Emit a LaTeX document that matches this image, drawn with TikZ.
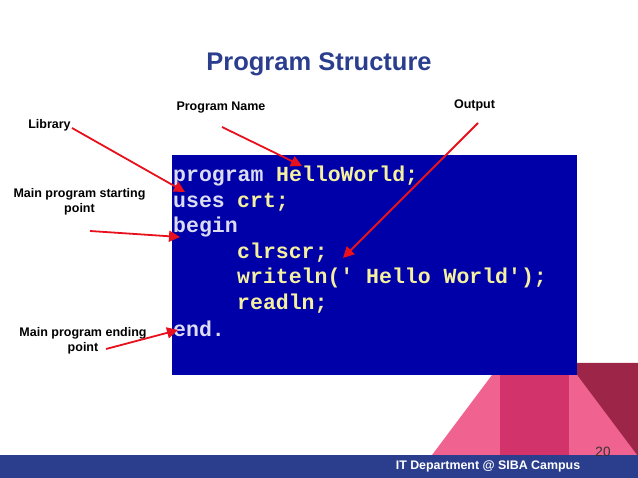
\documentclass[tikz,border=0pt]{standalone}
\usepackage{fontspec}
\setmainfont{Liberation Sans}
\setmonofont{Liberation Mono}
\usetikzlibrary{arrows.meta}

\definecolor{bandblue}{HTML}{2B3E8E}
\definecolor{screenblue}{HTML}{0000A8}
\definecolor{pinklight}{HTML}{F0628F}
\definecolor{pinkdark}{HTML}{D1336A}
\definecolor{wine}{HTML}{9C2548}
\definecolor{codewhite}{HTML}{DCDCF0}
\definecolor{codeyellow}{HTML}{F4F0A0}
\definecolor{arrowred}{HTML}{E8101C}

\tikzset{
    labeltext/.style={font=\fontsize{12.5}{15.5}\selectfont\bfseries, align=center, inner sep=0pt},
    codeline/.style={font=\fontsize{21.5}{24}\selectfont\ttfamily\bfseries, anchor=base west, inner sep=0pt},
    pointer/.style={-{Triangle[length=11pt,width=11pt]}, color=arrowred, line width=1.8pt}
}

\begin{document}
\begin{tikzpicture}[x=1pt, y=-1pt]
    \useasboundingbox (0,0) rectangle (638,478);

    % Figuras del fondo
    \fill[wine] (577,363) -- (638,363) -- (638,470) -- (577,375) -- cycle;
    \fill[pinklight] (432,455) -- (492,375) -- (577,375) -- (637,455) -- cycle;
    \fill[pinkdark] (500,375) rectangle (569,455);

    % Banda inferior
    \fill[bandblue] (0,455) rectangle (638,478);
    \node[font=\fontsize{12.4}{15}\selectfont\bfseries, color=white] (footer) at (488,466.5) {IT Department @ SIBA Campus};
    \node[font=\fontsize{13.5}{16}\selectfont, color=black!80] (pagenum) at (603,452) {20};

    % Titulo
    \node[font=\fontsize{25.5}{30}\selectfont\bfseries, color=bandblue] (title) at (319,64) {Program Structure};

    % Pantalla con el programa
    \fill[screenblue] (172,155) rectangle (577,375);
    \node[codeline, color=codewhite] (lineprogram) at (173,182) {program};
    \node[codeline, color=codeyellow] (linename) at (276,182) {HelloWorld;};
    \node[codeline, color=codewhite] (lineuses) at (173,208) {uses};
    \node[codeline, color=codeyellow] (linecrt) at (237,208) {crt;};
    \node[codeline, color=codewhite] (linebegin) at (173,233) {begin};
    \node[codeline, color=codeyellow] (lineclr) at (237,259) {clrscr;};
    \node[codeline, color=codeyellow] (linewrite) at (237,284) {writeln(' Hello World');};
    \node[codeline, color=codeyellow] (lineread) at (237,310) {readln;};
    \node[codeline, color=codewhite] (lineend) at (173,337) {end.};

    % Etiquetas
    \node[labeltext] (library) at (49.5,125) {Library};
    \node[labeltext] (progname) at (221,108) {Program Name};
    \node[labeltext] (output) at (474.5,105) {Output};
    \node[labeltext] (mainstart) at (79.5,202) {Main program starting\\point};
    \node[labeltext] (mainend) at (83,341) {Main program ending\\point};

    % Extremos de las flechas
    \coordinate (libfrom) at (72,128);
    \coordinate (libto) at (185,192);
    \coordinate (namefrom) at (222,127);
    \coordinate (nameto) at (302,166);
    \coordinate (outfrom) at (478,123);
    \coordinate (outto) at (343,258);
    \coordinate (startfrom) at (90,231);
    \coordinate (startto) at (180,237);
    \coordinate (endfrom) at (106,349);
    \coordinate (endto) at (178,330);

    % Flechas
    \draw[pointer] (libfrom) -- (libto);
    \draw[pointer] (namefrom) -- (nameto);
    \draw[pointer] (outfrom) -- (outto);
    \draw[pointer] (startfrom) -- (startto);
    \draw[pointer] (endfrom) -- (endto);
\end{tikzpicture}
\end{document}
